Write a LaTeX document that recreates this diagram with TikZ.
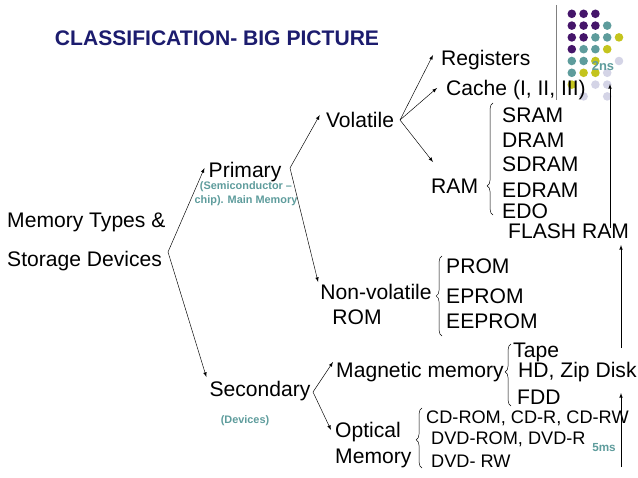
\documentclass[tikz,border=0pt]{standalone}
\usepackage{fontspec}
\setmainfont{Liberation Sans}
\usetikzlibrary{arrows,decorations.pathreplacing,positioning}
\definecolor{navy}{HTML}{1C1C6E}
\definecolor{tealg}{HTML}{5E9C9C}
\definecolor{dpur}{HTML}{45156A}
\definecolor{yel}{HTML}{C4C41E}
\definecolor{lav}{HTML}{D4D4E6}

\begin{document}
\begin{tikzpicture}[x=0.03cm, y=-0.03cm, big/.style={font=\fontsize{18}{21}\selectfont, inner sep=0pt, anchor=west}, mid/.style={font=\fontsize{15.5}{18}\selectfont, inner sep=0pt, anchor=west}, note/.style={font=\bfseries\fontsize{9.3}{11}\selectfont, text=tealg, inner sep=0pt}, arr/.style={-latex, thin}, brc/.style={decorate, decoration={brace, amplitude=5pt}}]
\useasboundingbox (0,0) rectangle (638,478);

\node[font=\bfseries\fontsize{18}{21}\selectfont, text=navy] (title) at (217,38) {CLASSIFICATION- BIG PICTURE};
\draw[gray] (556,5) -- (556,100);

% dots
\foreach \c/\r/\col in {1/1/dpur,2/1/dpur,3/1/dpur, 1/2/dpur,2/2/dpur,3/2/dpur,4/2/tealg, 1/3/dpur,2/3/dpur,3/3/tealg,4/3/tealg,5/3/yel, 1/4/dpur,2/4/tealg,3/4/tealg,4/4/yel, 1/5/tealg,2/5/tealg,3/5/yel,5/5/lav, 1/6/tealg,2/6/yel,3/6/yel,4/6/lav, 1/7/yel,3/7/lav,4/7/lav, 2/8/lav,4/8/lav}
  \fill[\col] ({560+11.8*\c},{2+11.8*\r}) circle (4.3);
\node[note, font=\bfseries\fontsize{11}{13}\selectfont] (ns) at (603,66) {2ns};
\node[note, font=\bfseries\fontsize{10}{12}\selectfont] (ms) at (604,448) {5ms};

% tree
\node[big] (mem) at (7,222) {Memory Types \&};
\node[big] (sto) at (7,261) {Storage Devices};
\node[big, anchor=center] (pri) at (245,172) {Primary};
\node[note, align=center] (semi) at (246,194) {(Semiconductor –\\[1pt]chip). Main Memory};
\node[big, anchor=center] (sec) at (260,391) {Secondary};
\node[note] (dev) at (245,421) {(Devices)};
\node[big, anchor=center] (vol) at (360,120) {Volatile};
\node[big, anchor=center] (nvol) at (376,292) {Non-volatile};
\node[big, anchor=center] (rom) at (357,317) {ROM};
\node[big] (reg) at (441,60) {Registers};
\node[big] (cache) at (446,90) {Cache (I, II, III)};
\node[big] (ram) at (431,186) {RAM};
\node[big] (sram) at (502,115) {SRAM};
\node[big] (dram) at (502,140) {DRAM};
\node[big] (sdram) at (502,164) {SDRAM};
\node[big] (edram) at (502,190) {EDRAM};
\node[big] (edo) at (502,211) {EDO};
\node[big] (flash) at (508,231) {FLASH RAM};
\node[big] (prom) at (446,266) {PROM};
\node[big] (eprom) at (446,296) {EPROM};
\node[big] (eeprom) at (446,321) {EEPROM};
\node[big] (mag) at (336,372) {Magnetic memory};
\node[big] (tape) at (513,352) {Tape};
\node[big] (hd) at (518,372) {HD, Zip Disk};
\node[big] (fdd) at (517,397) {FDD};
\node[big] (opt) at (335,432) {Optical};
\node[big] (optm) at (335,458) {Memory};
\node[mid] (cd) at (426,418) {CD-ROM, CD-R, CD-RW};
\node[mid] (dvd) at (431,439) {DVD-ROM, DVD-R};
\node[mid] (dvdrw) at (431,461) {DVD- RW};

\coordinate (m) at (168,252);
\coordinate (p) at (290,168);
\coordinate (v) at (400,120);
\coordinate (s) at (313,392);
\draw[arr] (m) -- ([shift={(-4,-4)}]pri.west);
\draw[arr] (m) -- ([shift={(-3,-14)}]sec.west);
\draw[arr] (p) -- ([shift={(-6,-5)}]vol.west);
\draw[arr] (p) -- ([shift={(-2,-10)}]nvol.west);
\draw[arr] (v) -- ([shift={(-8,-5)}]reg.west);
\draw[arr] (v) -- ([shift={(-9,-2)}]cache.west);
\draw[arr] (v) -- ([shift={(2,-24)}]ram.west);
\draw[arr] (s) -- ([shift={(-3,-10)}]mag.west);
\draw[arr] (s) -- ([shift={(-4,-2)}]opt.west);

% braces
\draw[brc, decoration={aspect=0.26}] (493,215) -- (493,103);
\draw[brc] (442,336) -- (442,256);
\draw[brc, decoration={aspect=0.55}] (511,406) -- (511,344);
\draw[brc, decoration={aspect=0.47}] (422,468) -- (422,408);

% speed arrows
\coordinate (a1) at (610,228);
\coordinate (t1) at (610,84);
\coordinate (a2) at (621,348);
\coordinate (t2) at (621,245);
\coordinate (a3) at (621,467);
\coordinate (t3) at (621,393);
\draw[arr] (a1) -- (t1);
\draw[arr] (a2) -- (t2);
\draw[arr] (a3) -- (t3);
\end{tikzpicture}
\end{document}
